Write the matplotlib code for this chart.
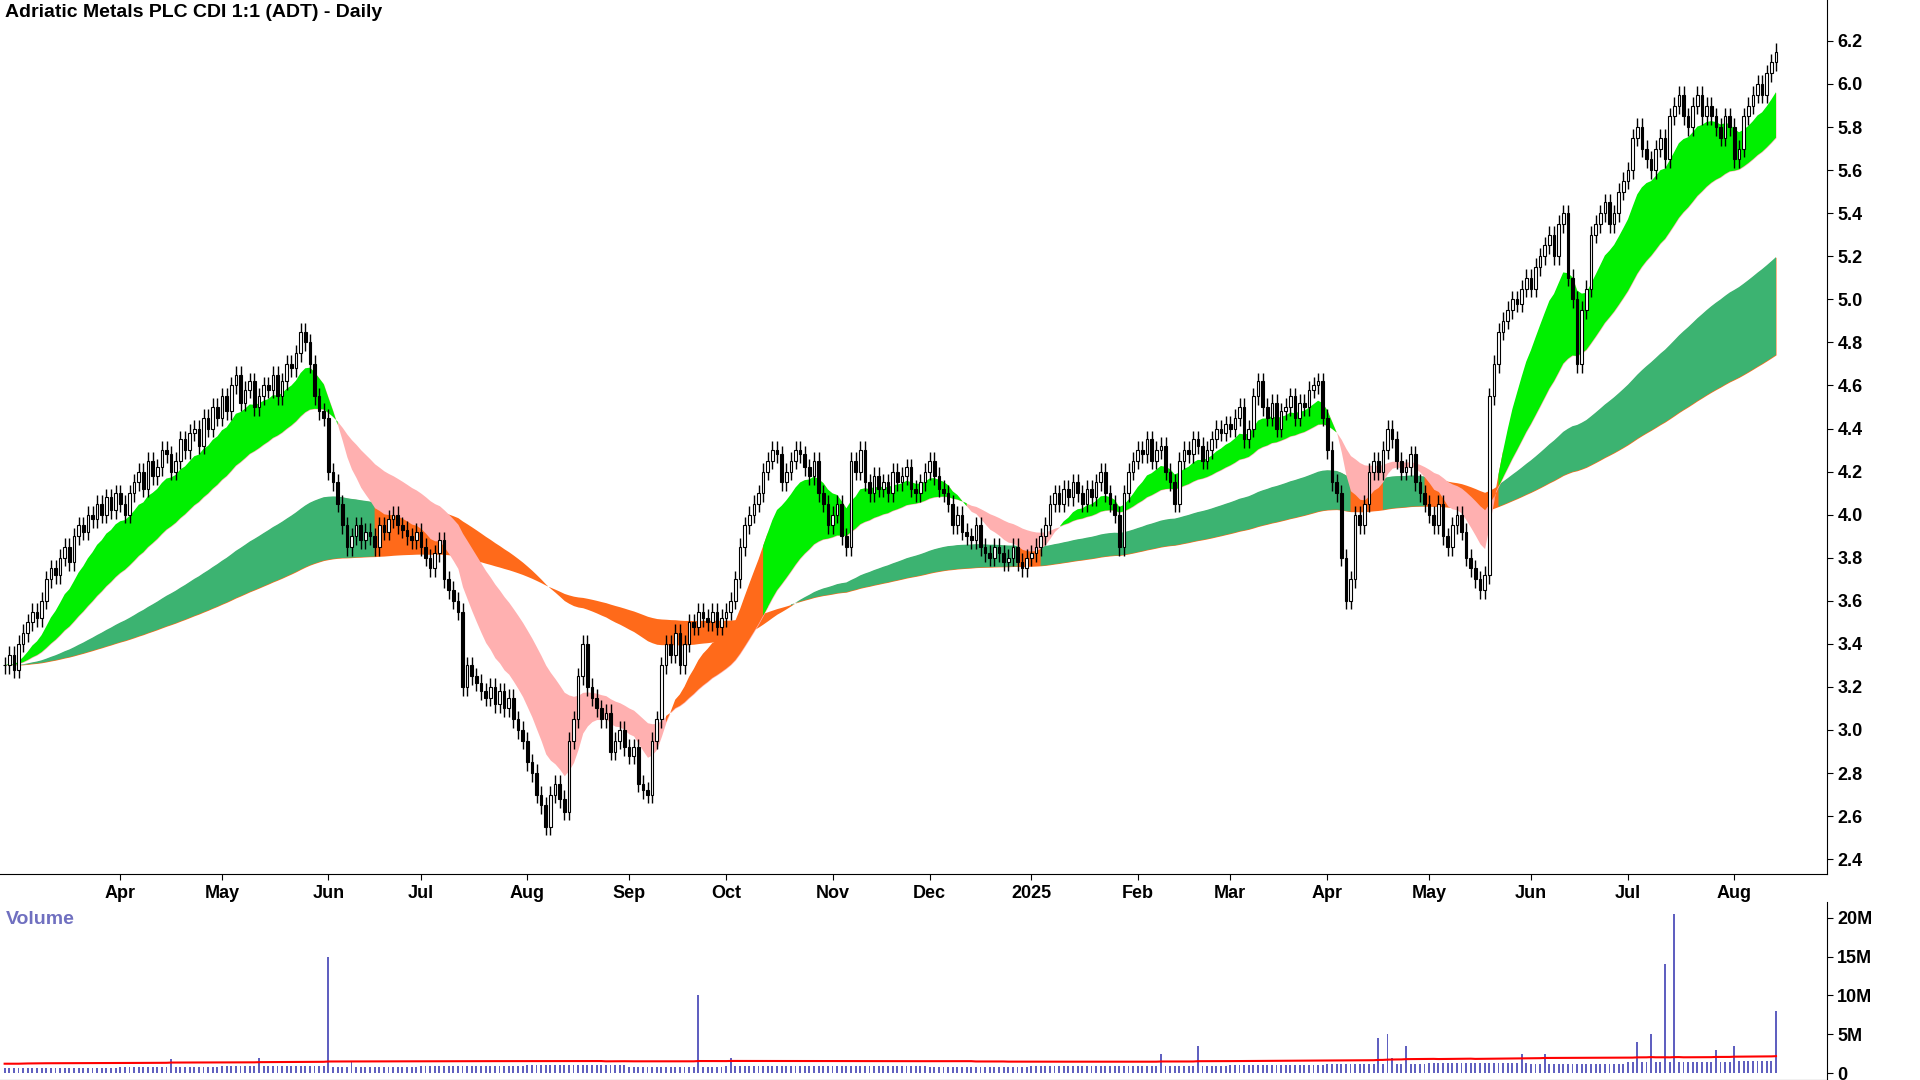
import numpy as np, pandas as pd
import matplotlib
matplotlib.use("Agg")
import matplotlib.pyplot as plt
from matplotlib.ticker import FuncFormatter

plt.rcParams['font.family'] = ['Liberation Sans', 'DejaVu Sans']

closes = [3.30,3.35,3.28,3.40,
3.45,3.50,3.55,3.52,3.60,3.70,3.75,3.72,3.80,3.85,3.78,3.90,3.95,3.92,4.00,3.98,4.05,4.00,4.08,4.02,4.10,
4.05,4.00,4.10,4.15,4.20,4.12,4.25,4.18,4.22,4.30,4.28,4.20,4.25,4.35,4.30,4.38,4.40,4.32,4.45,4.40,4.50,4.45,
4.55,4.48,4.60,4.65,4.52,4.58,4.62,4.50,4.55,4.60,4.58,4.65,4.55,4.62,4.70,4.68,4.75,4.85,4.80,4.70,4.55,4.48,4.45,
4.20,4.15,4.05,3.95,3.85,3.90,3.95,3.88,3.92,3.90,3.85,3.95,3.92,3.98,4.00,3.95,3.93,3.90,3.88,3.92,
3.85,3.80,3.75,3.82,3.88,3.70,3.65,3.60,3.55,3.20,3.30,3.25,3.22,3.18,3.15,3.20,3.12,3.18,3.10,3.15,3.05,3.00,2.95,
2.85,2.80,2.70,2.65,2.55,2.70,2.75,2.68,2.62,2.95,3.05,3.25,3.40,3.20,3.15,3.10,3.05,3.08,2.90,2.95,3.00,2.92,
2.88,2.92,2.75,2.72,2.70,2.95,3.05,3.30,3.40,3.35,3.45,3.30,3.40,3.50,3.48,3.55,3.52,3.50,3.55,3.48,3.52,
3.55,3.60,3.70,3.85,3.95,4.00,4.05,4.10,4.20,4.25,4.30,4.28,4.15,4.20,4.25,4.30,4.28,4.22,4.18,4.25,4.10,4.05,3.95,
4.00,4.05,3.90,3.85,4.25,4.20,4.30,4.15,4.10,4.18,4.12,4.15,4.10,4.20,4.15,4.18,4.22,4.12,4.10,4.15,4.20,
4.25,4.18,4.12,4.10,4.05,3.95,4.00,3.92,3.90,3.88,3.95,3.85,3.82,3.80,3.85,3.82,3.78,3.80,3.85,3.78,3.75,3.80,
3.82,3.85,3.90,3.95,4.05,4.10,4.05,4.12,4.08,4.15,4.10,4.05,4.12,4.08,4.15,4.20,4.10,4.05,4.00,3.85,4.10,4.20,4.25,
4.30,4.28,4.35,4.25,4.30,4.32,4.20,4.15,4.05,4.25,4.30,4.28,4.35,4.32,4.25,4.30,4.35,4.40,4.38,4.42,
4.40,4.45,4.50,4.35,4.40,4.55,4.62,4.50,4.45,4.52,4.40,4.48,4.50,4.55,4.45,4.52,4.50,4.58,4.60,4.62,4.45,
4.30,4.15,4.10,3.80,3.60,3.70,4.00,3.95,4.05,4.20,4.25,4.20,4.30,4.40,4.35,4.25,4.20,4.22,4.28,4.15,4.10,4.05,
4.00,3.95,4.05,3.90,3.85,3.95,4.00,3.92,3.80,3.75,3.70,3.65,3.72,4.55,4.70,4.85,4.90,4.95,5.00,4.98,5.05,5.10,
5.05,5.15,5.20,5.25,5.30,5.20,5.35,5.40,5.10,5.00,4.70,4.95,5.05,5.30,5.35,5.40,5.45,5.35,5.40,5.50,5.55,
5.60,5.75,5.80,5.70,5.65,5.60,5.70,5.75,5.65,5.85,5.90,5.95,5.85,5.80,5.90,5.95,5.85,5.90,5.85,5.80,5.75,5.85,5.80,
5.65,5.70,5.85,5.90,5.95,6.00,5.95,6.05,6.10,6.15]

month_base = [0.6,0.7,0.8,0.9,0.8,0.9,1.0,0.8,0.9,0.9,0.8,0.9,0.9,1.0,1.2,1.3,1.2,1.4,1.6,1.8,1.2]
spikes = {70:15.0, 150:10.0, 75:1.5, 36:1.8, 55:2.0, 157:2.0, 250:2.5, 258:3.5, 328:2.5, 333:2.5,
          300:2.0, 297:4.5, 299:5.0, 303:3.5, 359:14.0, 361:20.5, 353:4.0, 356:5.0, 383:8.0, 374:3.5, 370:3.0}

dates = pd.bdate_range("2024-02-26", periods=len(closes))
n = len(closes)
c = np.array(closes)
o = np.r_[c[0], c[:-1]]
h = np.maximum(o, c) + 0.04
l = np.minimum(o, c) - 0.04
x = np.arange(n)

months = dates.to_period('M')
uniq = list(months.unique())
vol = np.array([month_base[uniq.index(m)] for m in months])
for k, v in spikes.items():
    if k < n: vol[k] = v
volma = pd.Series(np.minimum(vol, 3)).rolling(60, min_periods=1).mean().values + 0.6

s = pd.Series(c)
def ema(p): return s.ewm(span=p, adjust=False).mean().values
ef, es, el1, el2 = ema(12), ema(35), ema(100), ema(200)
sh_lo = np.minimum(ef, es)
lo_hi = np.maximum(el1, el2)

def grow(m):
    return m | np.r_[m[1:], False] | np.r_[False, m[:-1]]

fig = plt.figure(figsize=(19.2, 10.8), dpi=100)
ax = fig.add_axes([0, 0.1905, 0.9515, 0.8095])
axv = fig.add_axes([0, 0.0, 0.9515, 0.1644])

overlap = (sh_lo < lo_hi)
lg = (el1 >= el2) & ~overlap
ax.fill_between(x, el1, el2, color='#ff6a1a', lw=0)
ax.fill_between(x, el1, el2, where=grow(lg), color='#3cb371', lw=0)
green = (ef >= es) & ~overlap
orange = (ef >= es) & overlap
ax.fill_between(x, ef, es, color='#ffb0b0', lw=0)
ax.fill_between(x, ef, es, where=grow(orange), color='#ff6a1a', lw=0)
ax.fill_between(x, ef, es, where=grow(green), color='#00f000', lw=0)

ax.vlines(x, l, h, color='black', lw=1, zorder=3)
upc = c >= o
ax.bar(x[upc], (c - o)[upc], bottom=o[upc], width=0.55, color='white', edgecolor='black', lw=0.8, zorder=4)
ax.bar(x[~upc], (c - o)[~upc], bottom=o[~upc], width=0.55, color='black', edgecolor='black', lw=0.8, zorder=4)

ax.set_xlim(-1, n + 10)
ax.set_ylim(2.33, 6.39)
ax.yaxis.tick_right()
ax.set_yticks(np.arange(2.4, 6.21, 0.2))
ax.yaxis.set_major_formatter(FuncFormatter(lambda v, p: f"{v:.1f}"))
first_idx = [int(np.where(months == m)[0][0]) for m in uniq][2:]
labels = [str(dates[i].year) if dates[i].month == 1 else dates[i].strftime('%b') for i in first_idx]
ax.set_xticks(first_idx)
ax.set_xticklabels(labels)
for a in (ax, axv):
    a.tick_params(axis='both', labelsize=13, length=4, direction='out')
    for sp in ('top', 'left'):
        a.spines[sp].set_visible(False)
for t in ax.get_xticklabels() + ax.get_yticklabels():
    t.set_fontweight('bold')
ax.text(0.003, 0.995, "Adriatic Metals PLC CDI 1:1 (ADT) - Daily", transform=ax.transAxes,
        fontsize=14, fontweight='bold', va='top', ha='left')

axv.bar(x, vol, width=0.4, color='#6060c0')
axv.plot(x, volma, color='red', lw=1.5)
axv.set_xlim(ax.get_xlim())
axv.set_ylim(-0.9, 22)
axv.yaxis.tick_right()
axv.set_yticks([0, 5, 10, 15, 20])
axv.set_yticklabels(['0', '5M', '10M', '15M', '20M'])
axv.set_xticks([])
for t in axv.get_yticklabels():
    t.set_fontweight('bold')
axv.text(0.003, 0.95, "Volume", transform=axv.transAxes, fontsize=14, fontweight='bold',
         color='#7070c0', va='top')
fig.savefig("out.png", dpi=100)
